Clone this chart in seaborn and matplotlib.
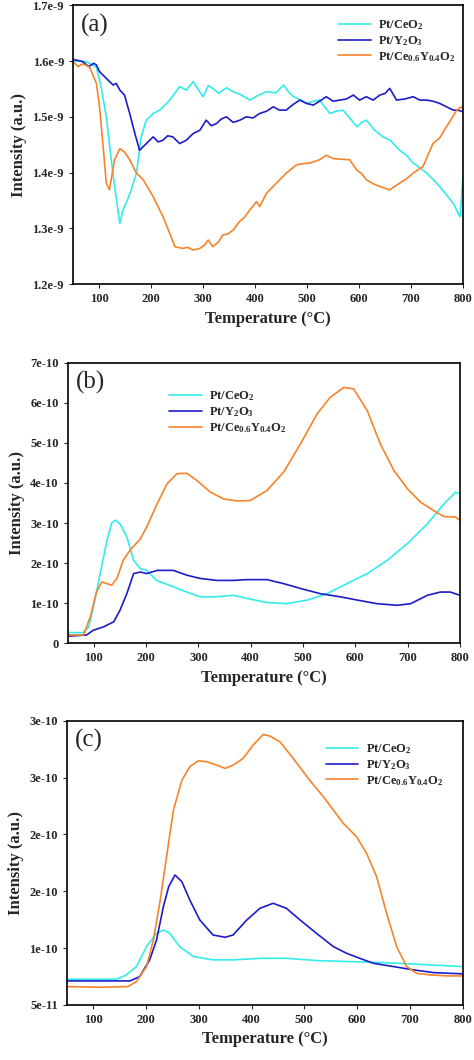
import numpy as np
import pandas as pd
import matplotlib
matplotlib.use("Agg")
import matplotlib.pyplot as plt
import matplotlib.ticker as mticker
import seaborn as sns

# ---- data ----
names = [r'Pt/CeO$_2$', r'Pt/Y$_2$O$_3$', r'Pt/Ce$_{0.6}$Y$_{0.4}$O$_2$']
colors = ["#33ecec", "#1c1cc8", "#f5842a"]

# panel (a), intensity in 1e-9
a_ceo2_x = [50, 76, 95, 104, 114, 124, 130, 140, 146, 152, 162, 172, 181, 191, 204, 217, 236, 255, 268, 281, 290, 300, 310, 319, 330, 345, 358, 372, 390, 405, 422, 440, 455, 465, 474, 486, 499, 512, 524, 534, 544, 556, 569, 582, 596, 605, 614, 630, 646, 660, 678, 690, 704, 718, 730, 742, 755, 768, 781, 794, 797, 800]
a_ceo2_y = [1.600, 1.599, 1.589, 1.554, 1.500, 1.420, 1.375, 1.309, 1.333, 1.345, 1.369, 1.399, 1.464, 1.494, 1.506, 1.512, 1.530, 1.554, 1.548, 1.563, 1.550, 1.536, 1.556, 1.551, 1.542, 1.552, 1.545, 1.540, 1.530, 1.538, 1.545, 1.543, 1.557, 1.544, 1.536, 1.531, 1.524, 1.528, 1.530, 1.518, 1.506, 1.510, 1.512, 1.498, 1.482, 1.490, 1.494, 1.476, 1.464, 1.458, 1.440, 1.432, 1.417, 1.408, 1.399, 1.388, 1.375, 1.360, 1.345, 1.321, 1.355, 1.400]
a_y2o3_x = [50, 69, 80, 90, 95, 101, 114, 127, 133, 140, 149, 159, 169, 178, 191, 204, 214, 223, 232, 242, 255, 268, 281, 294, 306, 316, 326, 335, 345, 358, 371, 383, 396, 409, 422, 435, 447, 460, 473, 486, 499, 512, 524, 537, 550, 563, 576, 589, 601, 614, 627, 640, 650, 659, 672, 688, 704, 717, 730, 742, 755, 768, 781, 790, 800]
a_y2o3_y = [1.603, 1.599, 1.590, 1.596, 1.593, 1.581, 1.569, 1.557, 1.560, 1.548, 1.539, 1.506, 1.470, 1.440, 1.452, 1.464, 1.455, 1.458, 1.466, 1.464, 1.452, 1.458, 1.470, 1.476, 1.494, 1.484, 1.488, 1.496, 1.500, 1.490, 1.494, 1.500, 1.498, 1.506, 1.510, 1.518, 1.512, 1.512, 1.522, 1.530, 1.524, 1.521, 1.528, 1.536, 1.528, 1.530, 1.532, 1.539, 1.530, 1.536, 1.530, 1.539, 1.542, 1.551, 1.530, 1.532, 1.536, 1.530, 1.530, 1.528, 1.524, 1.518, 1.512, 1.512, 1.509]
a_mix_x = [50, 60, 69, 82, 95, 101, 108, 114, 120, 130, 140, 149, 159, 172, 185, 204, 223, 236, 246, 261, 270, 281, 294, 303, 310, 319, 330, 338, 348, 358, 370, 380, 390, 403, 409, 422, 441, 460, 480, 492, 505, 524, 537, 550, 565, 582, 595, 605, 614, 627, 640, 659, 678, 690, 704, 723, 742, 755, 768, 788, 797, 800]
a_mix_y = [1.599, 1.590, 1.595, 1.589, 1.560, 1.518, 1.446, 1.381, 1.369, 1.423, 1.443, 1.437, 1.423, 1.399, 1.387, 1.357, 1.321, 1.291, 1.267, 1.264, 1.266, 1.261, 1.264, 1.270, 1.279, 1.267, 1.276, 1.288, 1.290, 1.297, 1.312, 1.320, 1.333, 1.348, 1.339, 1.363, 1.381, 1.399, 1.414, 1.416, 1.417, 1.423, 1.431, 1.425, 1.424, 1.423, 1.405, 1.398, 1.387, 1.380, 1.375, 1.369, 1.381, 1.388, 1.399, 1.411, 1.452, 1.462, 1.482, 1.512, 1.518, 1.512]

# panel (b), intensity in 1e-10
b_ceo2_x = [50, 80, 90, 99, 112, 125, 134, 141, 150, 163, 176, 189, 201, 220, 252, 278, 303, 331, 367, 393, 431, 469, 508, 546, 584, 623, 661, 700, 738, 770, 792, 800]
b_ceo2_y = [0.27, 0.27, 0.41, 0.91, 1.74, 2.57, 3.00, 3.07, 2.98, 2.65, 2.07, 1.86, 1.82, 1.57, 1.41, 1.28, 1.16, 1.16, 1.20, 1.12, 1.02, 0.99, 1.08, 1.24, 1.49, 1.74, 2.07, 2.49, 2.98, 3.48, 3.77, 3.73]
b_y2o3_x = [50, 86, 99, 118, 138, 150, 163, 176, 189, 201, 221, 252, 278, 303, 335, 367, 393, 431, 463, 495, 533, 572, 604, 642, 680, 706, 738, 763, 782, 800]
b_y2o3_y = [0.18, 0.21, 0.33, 0.41, 0.54, 0.83, 1.24, 1.74, 1.78, 1.74, 1.82, 1.82, 1.70, 1.62, 1.57, 1.57, 1.59, 1.59, 1.49, 1.37, 1.24, 1.16, 1.08, 0.99, 0.95, 0.99, 1.20, 1.28, 1.28, 1.20]
b_mix_x = [50, 80, 93, 105, 115, 125, 134, 144, 156, 169, 189, 201, 221, 240, 259, 278, 297, 323, 348, 374, 399, 431, 463, 495, 527, 552, 578, 597, 623, 648, 674, 700, 725, 750, 770, 792, 800]
b_mix_y = [0.21, 0.21, 0.66, 1.28, 1.53, 1.49, 1.45, 1.62, 2.07, 2.32, 2.61, 2.90, 3.48, 3.98, 4.23, 4.24, 4.06, 3.77, 3.60, 3.55, 3.56, 3.81, 4.27, 4.97, 5.72, 6.13, 6.38, 6.34, 5.80, 4.97, 4.31, 3.85, 3.52, 3.31, 3.16, 3.15, 3.07]

# panel (c), intensity in 1e-10
c_ceo2_x = [50, 144, 163, 182, 201, 220, 233, 245, 264, 290, 327, 365, 416, 466, 523, 586, 649, 712, 800]
c_ceo2_y = [0.726, 0.726, 0.764, 0.837, 1.013, 1.130, 1.159, 1.130, 1.013, 0.925, 0.896, 0.896, 0.910, 0.910, 0.890, 0.881, 0.872, 0.858, 0.837]
c_y2o3_x = [50, 113, 170, 188, 207, 220, 233, 243, 255, 268, 283, 302, 327, 350, 365, 391, 416, 441, 466, 492, 523, 555, 580, 605, 631, 669, 707, 745, 800]
c_y2o3_y = [0.711, 0.711, 0.711, 0.749, 0.896, 1.071, 1.365, 1.540, 1.643, 1.584, 1.423, 1.247, 1.115, 1.095, 1.115, 1.247, 1.350, 1.394, 1.350, 1.247, 1.130, 1.013, 0.954, 0.910, 0.866, 0.837, 0.808, 0.784, 0.773]
c_mix_x = [50, 113, 166, 182, 201, 214, 227, 239, 252, 268, 283, 299, 315, 334, 350, 365, 384, 403, 422, 435, 454, 479, 510, 536, 555, 574, 599, 618, 637, 656, 675, 694, 713, 738, 770, 800]
c_mix_y = [0.661, 0.655, 0.661, 0.705, 0.837, 1.071, 1.423, 1.804, 2.215, 2.478, 2.596, 2.648, 2.640, 2.610, 2.581, 2.610, 2.669, 2.786, 2.880, 2.865, 2.815, 2.669, 2.478, 2.332, 2.215, 2.097, 1.980, 1.833, 1.628, 1.306, 1.013, 0.837, 0.778, 0.764, 0.755, 0.755]

x_ticks = [100, 200, 300, 400, 500, 600, 700, 800]
a_yticks = [1.2e-9, 1.3e-9, 1.4e-9, 1.5e-9, 1.6e-9, 1.7e-9]
a_ylabels = ["1.2e-9", "1.3e-9", "1.4e-9", "1.5e-9", "1.6e-9", "1.7e-9"]
b_yticks = [0, 1e-10, 2e-10, 3e-10, 4e-10, 5e-10, 6e-10, 7e-10]
b_ylabels = ["0", "1e-10", "2e-10", "3e-10", "4e-10", "5e-10", "6e-10", "7e-10"]
c_yticks = [0.5e-10, 1.0e-10, 1.5e-10, 2.0e-10, 2.5e-10, 3.0e-10]
c_ylabels = ["5e-11", "1e-10", "2e-10", "2e-10", "3e-10", "3e-10"]

sns.set_style("white")
plt.rcParams['font.family'] = ['Liberation Serif', 'DejaVu Serif']
plt.rcParams['font.weight'] = 'bold'
plt.rcParams['mathtext.fontset'] = 'custom'
plt.rcParams['mathtext.rm'] = 'Liberation Serif:bold'
plt.rcParams['mathtext.bf'] = 'Liberation Serif:bold'
plt.rcParams['mathtext.default'] = 'rm'


def make_df(series, scale):
    frames = []
    for name, (xs, ys) in zip(names, series):
        frames.append(pd.DataFrame({"T": xs, "I": np.array(ys) * scale, "sample": name}))
    return pd.concat(frames, ignore_index=True)


fig = plt.figure(figsize=(4.74, 10.6), dpi=100)

panels = [
    dict(rect=[0.154, 0.732, 0.823, 0.263], scale=1e-9,
         series=[(a_ceo2_x, a_ceo2_y), (a_y2o3_x, a_y2o3_y), (a_mix_x, a_mix_y)],
         ylim=(1.2e-9, 1.7e-9), yt=a_yticks, yl=a_ylabels, tag="(a)",
         leg=dict(loc="upper right", bbox_to_anchor=(1.0, 0.98))),
    dict(rect=[0.143, 0.393, 0.827, 0.265], scale=1e-10,
         series=[(b_ceo2_x, b_ceo2_y), (b_y2o3_x, b_y2o3_y), (b_mix_x, b_mix_y)],
         ylim=(0, 7e-10), yt=b_yticks, yl=b_ylabels, tag="(b)",
         leg=dict(loc="upper left", bbox_to_anchor=(0.24, 0.93))),
    dict(rect=[0.141, 0.052, 0.835, 0.268], scale=1e-10,
         series=[(c_ceo2_x, c_ceo2_y), (c_y2o3_x, c_y2o3_y), (c_mix_x, c_mix_y)],
         ylim=(0.5e-10, 3.0e-10), yt=c_yticks, yl=c_ylabels, tag="(c)",
         leg=dict(loc="upper right", bbox_to_anchor=(0.97, 0.95))),
]

for p in panels:
    ax = fig.add_axes(p["rect"])
    df = make_df(p["series"], p["scale"])
    sns.lineplot(data=df, x="T", y="I", hue="sample", palette=colors,
                 estimator=None, linewidth=1.2, ax=ax)
    ax.set_xlim(50, 800)
    ax.set_ylim(*p["ylim"])
    ax.xaxis.set_major_locator(mticker.FixedLocator(x_ticks))
    ax.set_xticklabels([str(t) for t in x_ticks])
    ax.yaxis.set_major_locator(mticker.FixedLocator(p["yt"]))
    ax.set_yticklabels(p["yl"])
    ax.tick_params(labelsize=9, length=3, direction="out", left=True, bottom=True)
    for lab in ax.get_xticklabels() + ax.get_yticklabels():
        lab.set_fontweight("bold")
    for s in ax.spines.values():
        s.set_color("black")
        s.set_linewidth(1.2)
    ax.set_xlabel("Temperature (\u00b0C)", fontsize=12, fontweight="bold")
    ax.set_ylabel("Intensity (a.u.)", fontsize=12, fontweight="bold")
    ax.text(0.02, 0.97, p["tag"], transform=ax.transAxes, fontsize=18,
            fontweight="normal", va="top", ha="left")
    handles, labels = ax.get_legend_handles_labels()
    ax.legend(handles, labels, frameon=False, fontsize=9, handlelength=2.6,
              labelspacing=0.15, handletextpad=0.6, borderaxespad=0.2, **p["leg"])

plt.savefig("out.png", dpi=100)
plt.close()
